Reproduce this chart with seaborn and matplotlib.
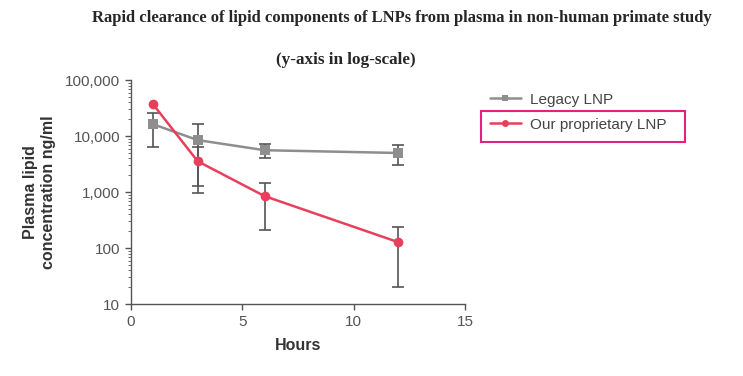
import matplotlib
matplotlib.use("Agg")
import matplotlib.pyplot as plt
import matplotlib.ticker as mticker
from matplotlib.patches import Rectangle
from matplotlib.lines import Line2D
import seaborn as sns
import pandas as pd
import numpy as np

hours = [1, 3, 6, 12]
series = ["Legacy LNP", "Our proprietary LNP"]
legacy_mean = [16300, 8500, 5600, 5000]
legacy_lo = [10000, 7200, 1550, 2000]
legacy_hi = [9700, 7800, 1600, 1900]
ours_mean = [37000, 3560, 850, 128]
ours_lo = [0, 2600, 640, 108]
ours_hi = [0, 2740, 600, 110]

colors = {"Legacy LNP": "#8e8e8e", "Our proprietary LNP": "#e8405c"}
markers = {"Legacy LNP": "s", "Our proprietary LNP": "o"}

df = pd.DataFrame({
    "Hours": hours * 2,
    "conc": legacy_mean + ours_mean,
    "series": [series[0]] * 4 + [series[1]] * 4,
})

sns.set_style("ticks")
plt.rcParams['font.family'] = ['Liberation Sans', 'DejaVu Sans']

fig = plt.figure(figsize=(7.43, 3.76), dpi=100)
ax = fig.add_axes([0.176, 0.191, 0.450, 0.596])

# error bars (only where an error was visible)
ecol = "#555555"
for xs, m, lo, hi in [(hours, legacy_mean, legacy_lo, legacy_hi),
                      (hours, ours_mean, ours_lo, ours_hi)]:
    idx = [i for i in range(len(xs)) if lo[i] > 0 or hi[i] > 0]
    ax.errorbar([xs[i] for i in idx], [m[i] for i in idx],
                yerr=[[lo[i] for i in idx], [hi[i] for i in idx]], fmt="none",
                ecolor=ecol, elinewidth=1.2, capsize=4, capthick=1.2, zorder=1)

sns.lineplot(data=df, x="Hours", y="conc", hue="series", style="series",
             palette=colors, markers=markers, dashes=False, linewidth=1.8,
             markersize=7, markeredgewidth=0, ax=ax, legend=False, zorder=3)

ax.set_yscale("log")
ax.set_ylim(10, 100000)
ax.set_xlim(0, 15)
ax.set_xticks([0, 5, 10, 15])
ax.yaxis.set_major_formatter(mticker.FuncFormatter(lambda v, p: f"{int(v):,}"))
ax.yaxis.set_minor_locator(mticker.LogLocator(base=10, subs=np.arange(2, 10)))
ax.yaxis.set_minor_formatter(mticker.NullFormatter())
for s in ["top", "right"]:
    ax.spines[s].set_visible(False)
for s in ["left", "bottom"]:
    ax.spines[s].set_color("#555555")
    ax.spines[s].set_linewidth(1.0)
ax.tick_params(axis="both", which="major", labelsize=11, colors="#555555",
               labelcolor="#555555", length=4, width=1.0)
ax.tick_params(axis="y", which="minor", length=2, width=0.6, colors="#555555")
ax.set_xlabel("Hours", fontsize=11.5, fontweight="bold", color="#333333", labelpad=7)
ax.set_ylabel("Plasma lipid\nconcentration ng/ml", fontsize=11.5, fontweight="bold",
              color="#333333", labelpad=7)

fig.text(0.541, 0.952, "Rapid clearance of lipid components of LNPs from plasma in non-human primate study",
         ha="center", va="center", fontsize=12, fontweight="bold", family="Liberation Serif")
fig.text(0.465, 0.840, "(y-axis in log-scale)", ha="center", va="center",
         fontsize=12.3, fontweight="bold", family="Liberation Serif")

handles = [Line2D([], [], color=colors[s], marker=markers[s], markersize=5,
                  linewidth=1.8, markeredgewidth=0) for s in series]
leg = fig.legend(handles, series, loc="upper left", bbox_to_anchor=(0.641, 0.790),
                 frameon=False, fontsize=11, handlelength=2.0, labelspacing=0.72,
                 handletextpad=0.6)
for t in leg.get_texts():
    t.set_color("#444444")

fig.patches.append(Rectangle((481 / 743, 1 - 142 / 376), (685 - 481) / 743, 31 / 376,
                             transform=fig.transFigure, fill=False,
                             edgecolor="#e6207d", linewidth=1.5))

fig.savefig("out.png", dpi=100, facecolor="white")
